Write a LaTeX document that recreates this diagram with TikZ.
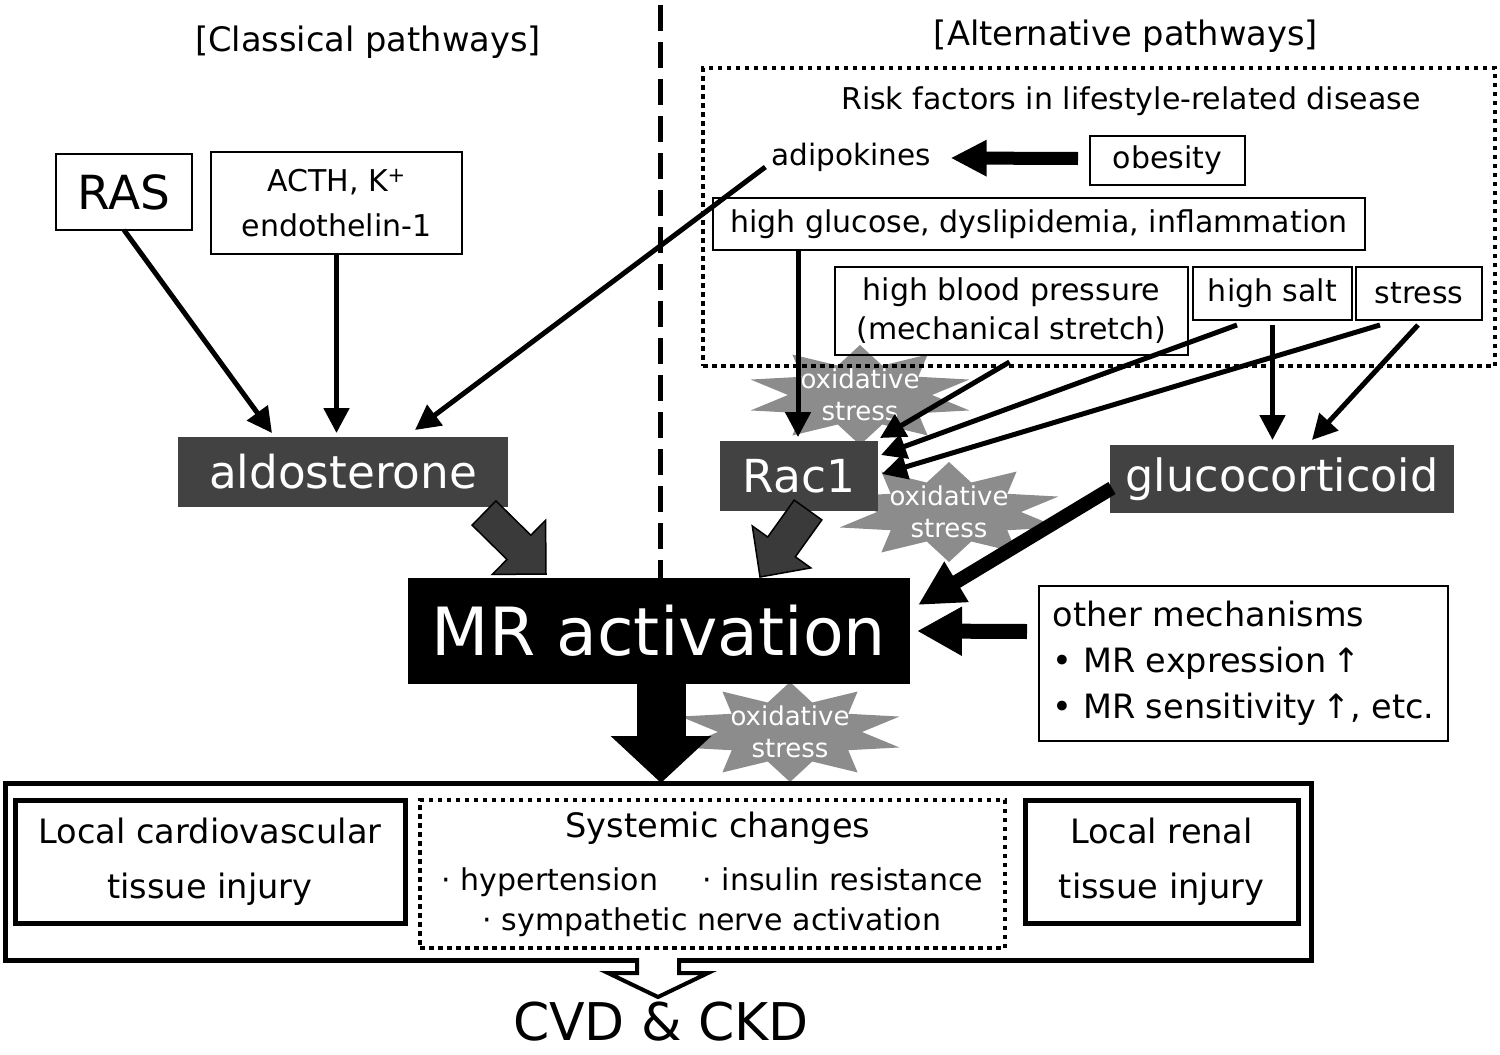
\documentclass[tikz,border=0pt]{standalone}
\usepackage{fontspec}
\setmainfont{DejaVu Sans}
\usetikzlibrary{arrows.meta,calc}
\definecolor{darkfill}{RGB}{66,66,66}
\definecolor{stargray}{RGB}{140,140,140}
\definecolor{arrowfill}{RGB}{58,58,58}
\newcommand\fsz[2]{\fontsize{#1}{#2}\selectfont}
\newcommand\blockarr[5]{%
  \path (#1) coordinate (ba-A);
  \path (#2) coordinate (ba-B);
  \path ($(ba-B)!#5!(ba-A)$) coordinate (ba-H);
  \filldraw[fill=arrowfill, draw=black, line width=1.5pt, line join=miter]
    ($(ba-A)!#3!90:(ba-B)$) -- ($(ba-H)!#3!90:(ba-B)$) -- ($(ba-H)!#4!90:(ba-B)$) -- (ba-B)
    -- ($(ba-H)!#4!-90:(ba-B)$) -- ($(ba-H)!#3!-90:(ba-B)$) -- ($(ba-A)!#3!-90:(ba-B)$) -- cycle;}
\newcommand\oxstar[3]{%
  \fill[stargray,shift={(#1,#2)}] ({115*cos(18)},{50*sin(18)})
    \foreach \k in {0,...,9}{ -- ({72*cos(36+36*\k)},{31*sin(36+36*\k)}) -- ({115*cos(54+36*\k)},{50*sin(54+36*\k)}) } -- cycle;
  \node[startext] (#3) at (#1,#2) {oxidative\\stress};}
\begin{document}
\begin{tikzpicture}[x=1pt,y=-1pt,
  every node/.style={inner sep=0pt, outer sep=0pt},
  box/.style={draw=black, line width=1.8pt, align=center, font=\fsz{30}{36}},
  darkbox/.style={fill=darkfill, text=white, align=center},
  thickbox/.style={draw=black, line width=5pt, align=center},
  dotbox/.style={draw=black, line width=4.5pt, dash pattern=on 4.5pt off 4.5pt},
  startext/.style={text=white, align=center, font=\fsz{26}{32}},
  thinarrow/.style={line width=5pt, -{Triangle[length=25pt,width=25pt]}},
]
\useasboundingbox (0,0) rectangle (1500,1055);

% oxidative stress stars (background)
\oxstar{860}{395}{ox1}
\oxstar{949}{512}{ox2}
\oxstar{790}{732}{ox3}

% headings
\node[font=\fsz{33.7}{40}] (hclass) at (368,42) {[Classical pathways]};
\node[font=\fsz{33.7}{40}] (halt) at (1126,36) {[Alternative pathways]};

% risk factor region
\node[dotbox, minimum width=792pt, minimum height=298pt] (risk) at (1099,217) {};
\node[font=\fsz{30}{36}] (risktitle) at (1131,101) {Risk factors in lifestyle-related disease};
\node[font=\fsz{29.5}{36}] (adip) at (851,157) {adipokines};
\node[box, minimum width=155pt, minimum height=49pt] (ob) at (1167.5,160.5) {obesity};
\node[box, minimum width=652pt, minimum height=52pt] (gluc) at (1039,224) {high glucose, dyslipidemia, inflammation};
\node[box, minimum width=353pt, minimum height=88pt, font=\fsz{30}{39}] (hbp) at (1011.5,311) {high blood pressure\\(mechanical stretch)};
\node[box, minimum width=159pt, minimum height=53pt] (salt) at (1272.5,293.5) {high salt};
\node[box, minimum width=126pt, minimum height=53pt] (stress) at (1419,293.5) {stress};

% classical inputs
\node[box, minimum width=136pt, minimum height=76pt, font=\fsz{47}{52}] (ras) at (124,192) {RAS};
\node[box, minimum width=251pt, minimum height=102pt, font=\fsz{30}{45}] (acth) at (336.5,203) {ACTH, K\textsuperscript{+}\\endothelin-1};

% mediators
\node[darkbox, minimum width=330pt, minimum height=70pt, font=\fsz{45.3}{50}] (ald) at (343,472) {aldosterone};
\node[darkbox, minimum width=158pt, minimum height=70pt, font=\fsz{45.5}{50}] (rac) at (799,476) {Rac1};
\node[darkbox, minimum width=344pt, minimum height=68pt, font=\fsz{44.5}{50}] (gluco) at (1282,479) {glucocorticoid};

% divider
\coordinate (dtop) at (660,5);

% MR activation
\node[fill=black, text=white, minimum width=502pt, minimum height=106pt, font=\fsz{66.5}{70}] (mr) at (659,631) {MR activation};
\draw[line width=5pt, dash pattern=on 26pt off 11pt] (dtop) -- (dtop |- mr.north);

\node[box, minimum width=409pt, minimum height=155pt, align=left, font=\fsz{33.5}{46}] (other) at (1243.5,663.5)
  {other mechanisms\\• MR expression\,↑\\• MR sensitivity\,↑, etc.};

% outcome boxes
\node[thickbox, minimum width=1306pt, minimum height=177pt] (outer) at (658,871.5) {};
\node[thickbox, minimum width=390pt, minimum height=123pt, font=\fsz{33.6}{55}] (lcv) at (210,861.5) {Local cardiovascular\\tissue injury};
\node[dotbox, minimum width=585pt, minimum height=148pt] (sys) at (712.5,874) {};
\node[font=\fsz{33.6}{40}] (systitle) at (718,828) {Systemic changes};
\node[font=\fsz{30}{36}, anchor=base] (hyp) at (550,890) {· hypertension};
\node[font=\fsz{30}{36}, anchor=base] (ins) at (843,890) {· insulin resistance};
\node[font=\fsz{30}{36}, anchor=base] (sym) at (712,930) {· sympathetic nerve activation};
\node[thickbox, minimum width=273pt, minimum height=123pt, font=\fsz{33.6}{55}] (renal) at (1161.5,861.5) {Local renal\\tissue injury};
\node[font=\fsz{52}{58}, anchor=base] (cvd) at (661,1040) {CVD \& CKD};

% thin arrows
\draw[thinarrow] (ras.south) -- ($(ald.north west)+(94,-4)$);
\draw[thinarrow] (acth.south) -- ($(acth.south |- ald.north)+(0,-4)$);
\draw[thinarrow] ($(adip.west)+(-6,10)$) -- ($(ald.north east)+(-93,-7)$);
\draw[thinarrow] ($(gluc.south west)+(85,0)$) -- ($(rac.north west)+(78,-4)$);
\draw[thinarrow] ($(hbp.south)+(-2,7)$) -- ($(rac.north east)+(2,-3)$);
\draw[thinarrow] ($(salt.south west)+(44,5)$) -- ($(rac.north east)+(3,14)$);
\draw[thinarrow] ($(stress.south west)+(24,5)$) -- ($(rac.north east)+(4,33)$);
\draw[thinarrow] ($(salt.south)+(0,5)$) -- ($(salt.south |- gluco.north)+(0,-5)$);
\draw[thinarrow] ($(stress.south)+(-1,5)$) -- ($(gluco.north west)+(202,-5)$);

% heavy arrows
\draw[line width=13pt, -{Triangle[length=36pt,width=34pt]}] ($(ob.west)+(-12,-2)$) -- ($(adip.east)+(20,1)$);
\draw[line width=14pt, -{Triangle[length=45pt,width=44pt]}] ($(gluco.west)+(2,9)$) -- ($(mr.north east)+(8,27)$);
\draw[line width=15pt, -{Triangle[length=45pt,width=46pt]}] ($(other.west)+(-12,-32)$) -- ($(mr.east)+(7,0)$);
\draw[line width=49pt, -{Triangle[length=47pt,width=98pt]}] ($(mr.south)+(2,0)$) -- ($(mr.south |- outer.north)+(2,0)$);

% block arrows into MR
\blockarr{$(ald.south east)+(-24,6)$}{$(mr.north west)+(138,-4)$}{17pt}{38pt}{38pt}
\blockarr{$(rac.south west)+(88,-1)$}{$(mr.north west)+(352,-1)$}{17pt}{36pt}{37pt}

% hollow arrow to CVD & CKD
\coordinate (hol) at (outer.south);
\fill[white] ($(hol)+(-21,-3)$) -- ($(hol)+(-21,13)$) -- ($(hol)+(-50,13)$) -- ($(hol)+(0,37)$) -- ($(hol)+(50,13)$) -- ($(hol)+(21,13)$) -- ($(hol)+(21,-3)$) -- cycle;
\draw[line width=4pt, line join=miter] ($(hol)+(-21,-2)$) -- ($(hol)+(-21,13)$) -- ($(hol)+(-50,13)$) -- ($(hol)+(0,37)$) -- ($(hol)+(50,13)$) -- ($(hol)+(21,13)$) -- ($(hol)+(21,-2)$);
\end{tikzpicture}
\end{document}
